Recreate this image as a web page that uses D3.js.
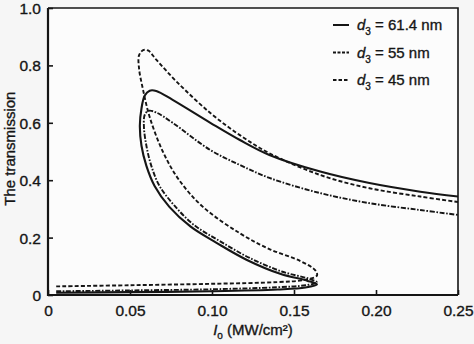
<!DOCTYPE html>
<html>
<head>
<meta charset="utf-8">
<script src="https://cdn.jsdelivr.net/npm/d3@7"></script>
<style>
  html, body { margin: 0; padding: 0; background: #f6f6f6; }
  svg { display: block; font-family: "Liberation Sans", Arial, sans-serif; }
  text { stroke: #151515; stroke-width: 0.35px; }
</style>
</head>
<body>
<svg id="chart" width="474" height="344"></svg>
<script>
// ---- data ----
const xTicks = [0, 0.05, 0.10, 0.15, 0.20, 0.25];
const xTickLabels = ["0", "0.05", "0.10", "0.15", "0.20", "0.25"];
const yTicks = [0, 0.2, 0.4, 0.6, 0.8, 1.0];
const yTickLabels = ["0", "0.2", "0.4", "0.6", "0.8", "1.0"];

const seriesNames = ["61.4 nm", "55 nm", "45 nm"];

// d3 = 61.4 nm (solid): lower branch -> turning -> middle branch -> upper branch
const curve614 = [
  [0.005,0.008],[0.05,0.010],[0.10,0.013],[0.14,0.019],[0.157,0.026],
  [0.164,0.037],[0.158,0.050],
  [0.142,0.073],[0.121,0.123],[0.103,0.181],[0.087,0.238],[0.074,0.307],
  [0.065,0.38],[0.060,0.45],[0.057,0.52],[0.056,0.59],[0.057,0.65],
  [0.059,0.695],[0.062,0.712],[0.066,0.711],
  [0.076,0.68],[0.099,0.60],[0.117,0.54],[0.135,0.488],
  [0.166,0.43],[0.196,0.39],[0.227,0.36],[0.25,0.343]
];
// d3 = 55 nm (dash-dot)
const curve55 = [
  [0.005,0.013],[0.05,0.016],[0.10,0.020],[0.14,0.027],[0.157,0.034],
  [0.164,0.044],[0.159,0.057],
  [0.143,0.081],[0.123,0.129],[0.105,0.187],[0.089,0.244],[0.077,0.312],
  [0.068,0.38],[0.063,0.45],[0.060,0.52],[0.0585,0.585],[0.059,0.628],
  [0.0615,0.642],[0.066,0.636],
  [0.076,0.60],[0.099,0.505],[0.117,0.453],[0.135,0.408],
  [0.166,0.355],[0.196,0.32],[0.227,0.296],[0.25,0.279]
];
// d3 = 45 nm (dashed)
const curve45 = [
  [0.005,0.030],[0.05,0.034],[0.10,0.039],[0.14,0.045],[0.157,0.053],
  [0.164,0.068],[0.163,0.086],
  [0.154,0.118],[0.135,0.16],[0.117,0.215],[0.0945,0.307],[0.080,0.40],
  [0.070,0.50],[0.062,0.62],[0.058,0.714],[0.0555,0.79],[0.0555,0.835],
  [0.058,0.853],[0.061,0.852],[0.066,0.82],[0.079,0.74],[0.099,0.634],[0.117,0.557],
  [0.135,0.494],[0.166,0.418],[0.196,0.372],[0.227,0.343],[0.25,0.324]
];

const series = [
  { name: seriesNames[0], values: curve614, dash: null },
  { name: seriesNames[1], values: curve55, dash: "5,1.6,1.6,1.6" },
  { name: seriesNames[2], values: curve45, dash: "4,2.2" }
];

// ---- layout ----
const svg = d3.select("#chart");
const margin = { left: 48, right: 474 - 458, top: 8, bottom: 344 - 295 };
const W = 474 - margin.left - margin.right;
const H = 344 - margin.top - margin.bottom;

const x = d3.scaleLinear().domain([0, 0.25]).range([margin.left, margin.left + W]);
const y = d3.scaleLinear().domain([0, 1]).range([margin.top + H, margin.top]);

svg.append("rect")
  .attr("x", x(0)).attr("y", y(1))
  .attr("width", W).attr("height", H)
  .attr("fill", "#fcfcfc");

const ink = "#151515";

// curves
const line = d3.line()
  .x(d => x(d[0])).y(d => y(d[1]))
  .curve(d3.curveCatmullRom.alpha(0.5));

svg.append("clipPath").attr("id", "plotclip")
  .append("rect").attr("x", x(0)).attr("y", y(1)).attr("width", W).attr("height", H);

const g = svg.append("g").attr("clip-path", "url(#plotclip)");
series.slice().reverse().forEach(s => {
  g.append("path")
    .attr("d", line(s.values))
    .attr("fill", "none")
    .attr("stroke", ink)
    .attr("stroke-width", s.dash ? 1.9 : 2.1)
    .attr("stroke-dasharray", s.dash);
});

// axes (inward ticks)
const xAxis = d3.axisBottom(x).tickValues(xTicks)
  .tickFormat((d, i) => xTickLabels[i]).tickSizeInner(-5).tickSizeOuter(0).tickPadding(6);
const yAxis = d3.axisLeft(y).tickValues(yTicks)
  .tickFormat((d, i) => yTickLabels[i]).tickSizeInner(-5).tickSizeOuter(0).tickPadding(7);

const gx = svg.append("g").attr("transform", `translate(0,${y(0)})`).call(xAxis);
const gy = svg.append("g").attr("transform", `translate(${x(0)},0)`).call(yAxis);
[gx, gy].forEach(a => {
  a.select(".domain").remove();
  a.selectAll(".tick line").attr("stroke", ink).attr("stroke-width", 1.6);
  a.selectAll(".tick text").attr("fill", ink).style("font-size", "15.5px")
    .style("font-family", "'Liberation Sans', Arial, sans-serif");
});
gx.selectAll(".tick text").attr("dy", "0.95em");
gy.selectAll(".tick text").attr("dy", "0.36em");

// frame
svg.append("path")
  .attr("d", `M${x(0)},${y(1)} H${x(0.25)} V${y(0)}`)
  .attr("fill", "none").attr("stroke", ink).attr("stroke-width", 1.6);
svg.append("path")
  .attr("d", `M${x(0)},${y(1)} V${y(0)} H${x(0.25)}`)
  .attr("fill", "none").attr("stroke", ink).attr("stroke-width", 2.2);

// axis titles
const xt = svg.append("text")
  .attr("x", 253).attr("y", 335)
  .attr("text-anchor", "middle")
  .attr("fill", ink).style("font-size", "15px");
xt.append("tspan").style("font-style", "italic").text("I");
xt.append("tspan").attr("dy", 4).style("font-size", "10px").text("o");
xt.append("tspan").attr("dy", -4).text(" (MW/cm²)");

svg.append("text")
  .attr("transform", `translate(15,${y(0.51)}) rotate(-90)`)
  .attr("text-anchor", "middle")
  .attr("fill", ink).style("font-size", "15px")
  .text("The transmission");

// legend
const legend = svg.append("g");
series.forEach((s, i) => {
  const ly = 25 + i * 27.5;
  legend.append("line")
    .attr("x1", 333).attr("x2", 349).attr("y1", ly).attr("y2", ly)
    .attr("stroke", ink).attr("stroke-width", 2)
    .attr("stroke-dasharray", s.dash ? (i === 1 ? "3,1.5" : "3.5,2") : null);
  const t = legend.append("text")
    .attr("x", 357).attr("y", ly + 5)
    .attr("fill", ink).style("font-size", "15px");
  t.append("tspan").style("font-style", "italic").text("d");
  t.append("tspan").attr("dy", 5).style("font-size", "10px").text("3");
  t.append("tspan").attr("dy", -5).text(" = " + s.name);
});
</script>
</body>
</html>
